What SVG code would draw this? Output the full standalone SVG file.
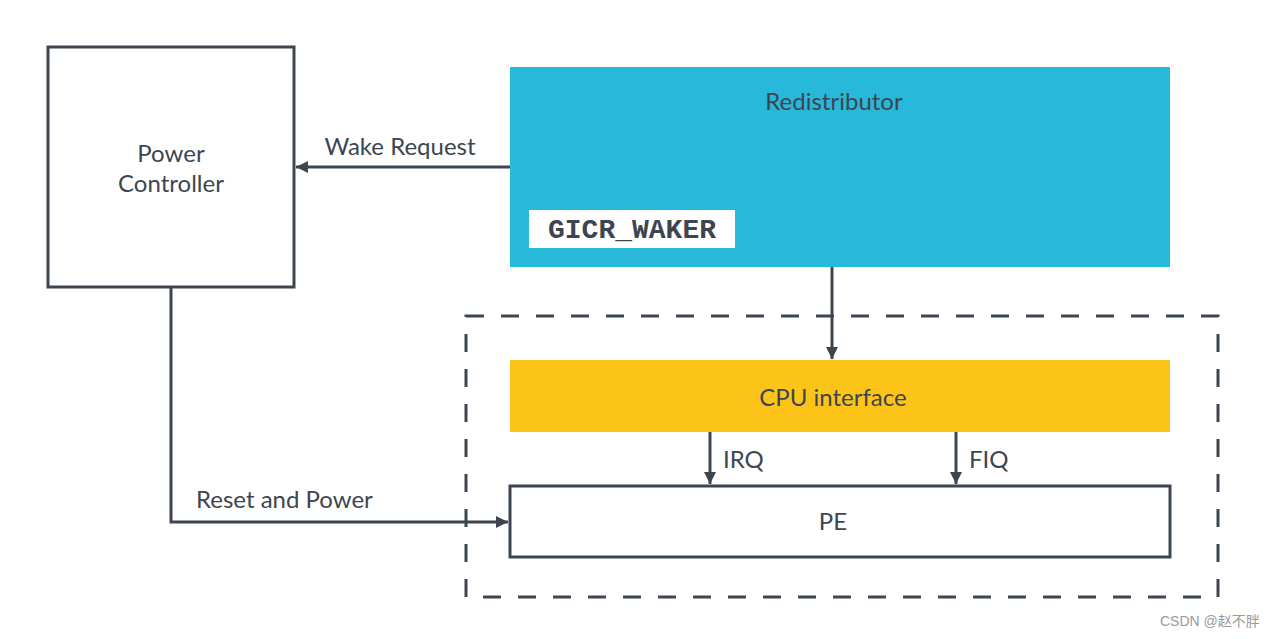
<svg xmlns="http://www.w3.org/2000/svg" width="1275" height="639" viewBox="0 0 1275 639">
<style>
.lbl{font-family:Lato,"Open Sans","Liberation Sans",sans-serif;font-size:24px;fill:#3d4650}
.box{fill:#fff;stroke:#3d4650;stroke-width:3}
.ln{fill:none;stroke:#3d4650;stroke-width:3}
</style>
<defs>
<marker id="ah" viewBox="0 0 10 10" refX="10" refY="5" markerWidth="4" markerHeight="4" orient="auto" markerUnits="strokeWidth">
<path d="M0,0 L10,5 L0,10 z" fill="#3d4650"/>
</marker>
</defs>
<rect width="1275" height="639" fill="#fff"/>
<g id="power-controller">
<rect class="box" x="48" y="47" width="246" height="240"/>
<text class="lbl" x="171" y="162" text-anchor="middle">Power</text>
<text class="lbl" x="171" y="192" text-anchor="middle">Controller</text>
</g>
<g id="redistributor">
<rect x="510" y="67" width="660" height="200" fill="#27b8da"/>
<text class="lbl" x="834" y="110" text-anchor="middle">Redistributor</text>
<rect x="529" y="210" width="206" height="38" fill="#fff"/>
<text x="632" y="238" text-anchor="middle" font-family="'Liberation Mono',monospace" font-weight="bold" font-size="28" fill="#3d4650">GICR_WAKER</text>
</g>
<g id="cpu-domain">
<rect x="466" y="316" width="752" height="281" fill="none" stroke="#3d4650" stroke-width="3" stroke-dasharray="18 17"/>
</g>
<g id="cpu-interface">
<rect x="510" y="360" width="660" height="72" fill="#fcc419"/>
<text class="lbl" x="833" y="406" text-anchor="middle">CPU interface</text>
</g>
<g id="pe">
<rect class="box" x="510" y="486" width="660" height="71"/>
<text class="lbl" x="833" y="530" text-anchor="middle">PE</text>
</g>
<g id="connectors">
<line class="ln" x1="510" y1="167" x2="296" y2="167" marker-end="url(#ah)"/>
<text class="lbl" x="400" y="155" text-anchor="middle">Wake Request</text>
<line class="ln" x1="832" y1="267" x2="832" y2="359" marker-end="url(#ah)"/>
<line class="ln" x1="710" y1="432" x2="710" y2="484" marker-end="url(#ah)"/>
<text class="lbl" x="723" y="468">IRQ</text>
<line class="ln" x1="956" y1="432" x2="956" y2="484" marker-end="url(#ah)"/>
<text class="lbl" x="969" y="468">FIQ</text>
<polyline class="ln" points="171,287 171,522 508,522" marker-end="url(#ah)"/>
<text class="lbl" x="196" y="508">Reset and Power</text>
</g>
<text x="1160" y="626" font-family="'Liberation Sans','Noto Sans CJK SC',sans-serif" font-size="14" fill="#9a9a9a">CSDN @赵不胖</text>
</svg>
